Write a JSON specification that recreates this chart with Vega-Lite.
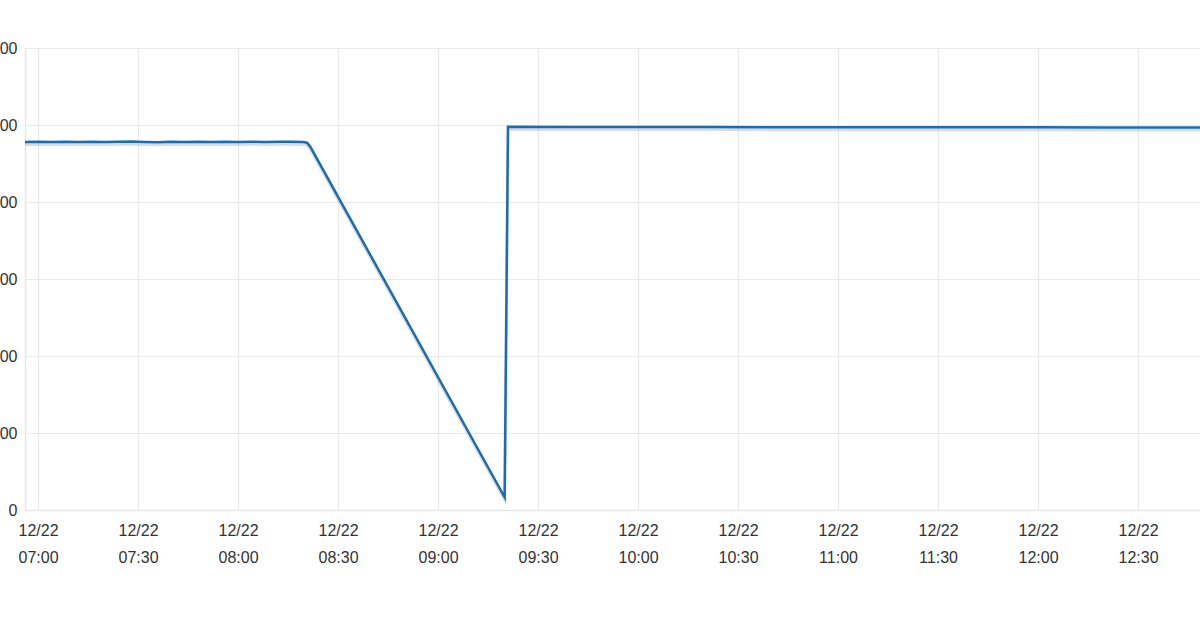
{
  "$schema": "https://vega.github.io/schema/vega-lite/v6.json",
  "autosize": "none",
  "width": 1200,
  "height": 462,
  "padding": {"left": 25, "top": 48, "right": 0, "bottom": 120},
  "background": "white",
  "config": {
    "font": "Liberation Sans",
    "view": {"stroke": "#e6e6e6", "strokeWidth": 1},
    "axis": {"gridColor": "#e9e9e9", "gridWidth": 1.2, "domainColor": "#e6e6e6", "domainWidth": 1.5, "ticks": false, "labelColor": "#333333", "labelFontSize": 16, "titleFontSize": 0}
  },
  "data": {
    "values": [
      {"t": "2016-12-22T06:56:00Z", "v": 478},
      {"t": "2016-12-22T07:00:00Z", "v": 478.2},
      {"t": "2016-12-22T07:04:00Z", "v": 477.8},
      {"t": "2016-12-22T07:08:00Z", "v": 478.4},
      {"t": "2016-12-22T07:12:00Z", "v": 477.9},
      {"t": "2016-12-22T07:16:00Z", "v": 478.1},
      {"t": "2016-12-22T07:20:00Z", "v": 477.8},
      {"t": "2016-12-22T07:24:00Z", "v": 478.3},
      {"t": "2016-12-22T07:28:00Z", "v": 478.6},
      {"t": "2016-12-22T07:32:00Z", "v": 478.0},
      {"t": "2016-12-22T07:36:00Z", "v": 477.7},
      {"t": "2016-12-22T07:40:00Z", "v": 478.2},
      {"t": "2016-12-22T07:44:00Z", "v": 478.0},
      {"t": "2016-12-22T07:48:00Z", "v": 478.4},
      {"t": "2016-12-22T07:52:00Z", "v": 477.9},
      {"t": "2016-12-22T07:56:00Z", "v": 478.1},
      {"t": "2016-12-22T08:00:00Z", "v": 477.8},
      {"t": "2016-12-22T08:04:00Z", "v": 478.3},
      {"t": "2016-12-22T08:08:00Z", "v": 478.0},
      {"t": "2016-12-22T08:12:00Z", "v": 478.2},
      {"t": "2016-12-22T08:16:00Z", "v": 478.1},
      {"t": "2016-12-22T08:19:30Z", "v": 478.0},
      {"t": "2016-12-22T08:20:40Z", "v": 477.0},
      {"t": "2016-12-22T08:21:40Z", "v": 472.0},
      {"t": "2016-12-22T09:20:00Z", "v": 16.5},
      {"t": "2016-12-22T09:21:00Z", "v": 497.6},
      {"t": "2016-12-22T09:40:00Z", "v": 497.5},
      {"t": "2016-12-22T10:00:00Z", "v": 497.3},
      {"t": "2016-12-22T10:20:00Z", "v": 497.4},
      {"t": "2016-12-22T10:40:00Z", "v": 497.1},
      {"t": "2016-12-22T11:00:00Z", "v": 497.2},
      {"t": "2016-12-22T11:20:00Z", "v": 497.0},
      {"t": "2016-12-22T11:40:00Z", "v": 497.1},
      {"t": "2016-12-22T12:00:00Z", "v": 497.2},
      {"t": "2016-12-22T12:20:00Z", "v": 496.9},
      {"t": "2016-12-22T12:40:00Z", "v": 496.7},
      {"t": "2016-12-22T12:58:00Z", "v": 496.5}
    ]
  },
  "encoding": {
    "x": {
      "field": "t", "type": "temporal",
      "scale": {"type": "utc", "domain": ["2016-12-22T06:56:06Z", "2016-12-22T12:56:06Z"]},
      "axis": {
        "title": null,
        "values": ["2016-12-22T07:00:00Z", "2016-12-22T07:30:00Z", "2016-12-22T08:00:00Z", "2016-12-22T08:30:00Z", "2016-12-22T09:00:00Z", "2016-12-22T09:30:00Z", "2016-12-22T10:00:00Z", "2016-12-22T10:30:00Z", "2016-12-22T11:00:00Z", "2016-12-22T11:30:00Z", "2016-12-22T12:00:00Z", "2016-12-22T12:30:00Z"],
        "labelExpr": "[utcFormat(datum.value, '%m/%d'), utcFormat(datum.value, '%H:%M')]",
        "labelLineHeight": 27,
        "labelPadding": 12,
        "labelBaseline": "top",
        "labelFlush": false,
        "labelOverlap": false
      }
    },
    "y": {
      "field": "v", "type": "quantitative",
      "scale": {"domain": [0, 600], "nice": false},
      "axis": {"title": null, "values": [0, 100, 200, 300, 400, 500, 600], "labelPadding": 8, "labelFlush": false}
    }
  },
  "layer": [
    {"mark": {"type": "line", "color": "#9a9a9a", "strokeWidth": 3, "opacity": 0.35, "yOffset": 2.5, "clip": true}},
    {"mark": {"type": "line", "color": "#1b6db3", "strokeWidth": 2.5, "clip": true}}
  ]
}
